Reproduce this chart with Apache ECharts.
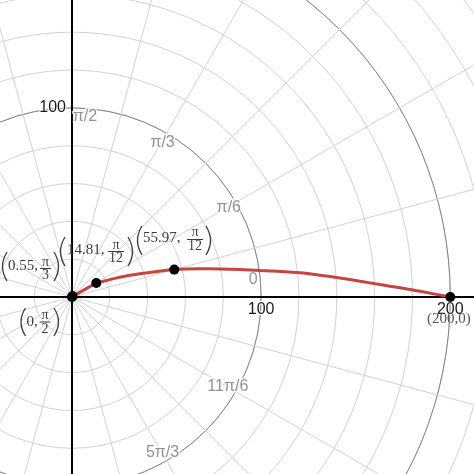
<!DOCTYPE html>
<html><head><meta charset="utf-8">
<script src="https://cdn.jsdelivr.net/npm/echarts@6/dist/echarts.min.js"></script>
<style>html,body{margin:0;padding:0;background:#fff}#c{width:474px;height:474px}</style>
</head><body><div id="c"></div>
<script>
// ---- data ----
// curve, polar coordinates: radius and angle in degrees
const curveR     = [0, 5.0, 9.8, 14.61, 19.41, 24.77, 32.74, 43.24, 55.85, 69.3, 79.63, 89.99, 100.37, 110.8, 121.22, 131.62, 142.04, 152.49, 162.97, 173.48, 184.0, 200];
const curveTheta = [31, 31, 30.5, 29.7, 26.0, 23.4, 20.52, 17.5, 15.09, 12.42, 10.71, 9.26, 8.02, 7.02, 6.06, 5.02, 4.06, 3.14, 2.32, 1.61, 0.95, 0];
// marked points
const pointR     = [0, 0.55, 14.81, 55.97, 200];
const pointTheta = [90, 60, 30, 15, 0];
// angle tick labels on the r = 100 circle
const angleTickDeg  = [90, 60, 30, 0, 330, 300];
const angleTickText = ['π/2', 'π/3', 'π/6', '0', '11π/6', '5π/3'];
// axis tick labels
const xTickLabels = [100, 200];
const yTickLabels = [100];
// point label texts
const labelValues = ['0.55,', '14.81,', '55.97,', '0,'];
const labelNum    = ['π', 'π', 'π', 'π'];
const labelDen    = ['3', '12', '12', '2'];
const endLabel    = '(200,0)';

// ---- layout ----
const S = 1.8915;            // px per unit
const CX = 72, CY = 297;     // origin in px
const W = 474, H = 474;
const angleLabelOffset = [[13, 9], [-4, 9], [-7, 5], [-8, -17], [-8, -5], [-4, -8]];
// per label: paren left x, paren top, paren bottom, text x, text y, frac cx, num y, bar y, den y, bar half width, right paren x
const labelLayout = [
  [2, 252, 281, 8, 266.5, 45.5, 262, 268.5, 275, 5.5, 54],
  [60, 237, 266, 67, 250.5, 116, 245, 251.5, 258.5, 8, 128],
  [137, 226, 255, 143, 238.5, 195, 232, 239.5, 246, 8, 206],
  [20.5, 308, 336, 26.5, 322, 45, 315.5, 322, 329, 5.5, 54]
];

const chart = echarts.init(document.getElementById('c'), null, {renderer: 'canvas'});

const graphics = [];
const serif = '"Liberation Serif", "DejaVu Serif", serif';
const ink = '#3c3c3c';
function paren(xl, top, bot, left) {
  const w = 5;
  if (left) {
    graphics.push({type: 'bezierCurve', z: 30, shape: {x1: xl + w, y1: top, x2: xl + w, y2: bot, cpx1: xl - 4, cpy1: (top + bot) / 2},
      style: {stroke: ink, lineWidth: 1.3, fill: null}});
  } else {
    graphics.push({type: 'bezierCurve', z: 30, shape: {x1: xl, y1: top, x2: xl, y2: bot, cpx1: xl + w + 4, cpy1: (top + bot) / 2},
      style: {stroke: ink, lineWidth: 1.3, fill: null}});
  }
}
labelLayout.forEach((L, i) => {
  const [pl, top, bot, tx, ty, fcx, ny, by, dy, bh, pr] = L;
  paren(pl, top, bot, true);
  graphics.push({type: 'text', z: 30, style: {text: labelValues[i], x: tx, y: ty, font: '15px ' + serif, fill: ink, align: 'left', verticalAlign: 'middle'}});
  graphics.push({type: 'text', z: 30, style: {text: labelNum[i], x: fcx, y: ny, font: '14px ' + serif, fill: ink, align: 'center', verticalAlign: 'middle'}});
  graphics.push({type: 'line', z: 30, shape: {x1: fcx - bh, y1: by, x2: fcx + bh, y2: by}, style: {stroke: ink, lineWidth: 1}});
  graphics.push({type: 'text', z: 30, style: {text: labelDen[i], x: fcx, y: dy, font: '14px ' + serif, fill: ink, align: 'center', verticalAlign: 'middle'}});
  paren(pr, top, bot, false);
});
graphics.push({type: 'text', z: 30, style: {text: endLabel, x: 427, y: 319.5, font: '15px ' + serif, fill: '#555', align: 'left', verticalAlign: 'middle'}});

const axisLabelStyle = {color: '#1a1a1a', fontSize: 16, textBorderColor: '#fff', textBorderWidth: 2,
  formatter: v => String(Math.round(v))};

const option = {
  animation: false,
  backgroundColor: '#fff',
  textStyle: {fontFamily: '"Liberation Sans", Arial, sans-serif'},
  polar: [
    {center: [CX, CY], radius: 280 * S},
    {center: [CX, CY], radius: 300 * S}
  ],
  angleAxis: [
    {polarIndex: 0, type: 'value', min: 0, max: 360, interval: 15, startAngle: 0, clockwise: false,
     axisLine: {show: false}, axisTick: {show: false}, axisLabel: {show: false},
     splitLine: {show: true, lineStyle: {color: '#d2d2d2', width: 1}}},
    {polarIndex: 1, type: 'value', min: 0, max: 360, interval: 90, startAngle: 0, clockwise: false,
     axisLine: {show: false}, axisTick: {show: false}, axisLabel: {show: false}, splitLine: {show: false}}
  ],
  radiusAxis: [
    {polarIndex: 0, type: 'value', min: 0, max: 280, interval: 20,
     axisLine: {show: false}, axisTick: {show: false}, axisLabel: {show: false},
     splitLine: {show: true, lineStyle: {color: '#d2d2d2', width: 1}}},
    {polarIndex: 1, type: 'value', min: 0, max: 300, interval: 100,
     axisLine: {show: false}, axisTick: {show: false}, axisLabel: {show: false},
     splitLine: {show: true, lineStyle: {color: '#858585', width: 1}}}
  ],
  // grid 0 carries the horizontal axis along its bottom edge, grid 1 the vertical axis along its left edge
  grid: [
    {left: 0, top: 0, width: W, height: CY, containLabel: false, outerBoundsMode: 'none'},
    {left: CX, top: 0, width: W - CX, height: H, containLabel: false, outerBoundsMode: 'none'}
  ],
  xAxis: [
    {gridIndex: 0, type: 'value', position: 'bottom', min: -CX / S, max: (W - CX) / S, z: 5,
     axisLine: {onZero: false, lineStyle: {color: '#000', width: 2}}, axisTick: {show: false}, splitLine: {show: false},
     axisLabel: Object.assign({customValues: xTickLabels, margin: 5}, axisLabelStyle)},
    {gridIndex: 1, type: 'value', min: 0, max: (W - CX) / S, show: false}
  ],
  yAxis: [
    {gridIndex: 0, type: 'value', min: 0, max: CY / S, show: false},
    {gridIndex: 1, type: 'value', position: 'left', min: -(H - CY) / S, max: CY / S, z: 5,
     axisLine: {onZero: false, lineStyle: {color: '#000', width: 2}}, axisTick: {show: false}, splitLine: {show: false},
     axisLabel: Object.assign({customValues: yTickLabels, margin: 6}, axisLabelStyle)}
  ],
  series: [
    {type: 'line', coordinateSystem: 'polar', polarIndex: 0, z: 8, smooth: 0.25, showSymbol: false, silent: true,
     data: curveR.map((r, i) => [r, curveTheta[i]]),
     lineStyle: {color: '#c74440', width: 3}},
    {type: 'scatter', coordinateSystem: 'polar', polarIndex: 0, z: 10, symbolSize: 10, silent: true,
     data: pointR.map((r, i) => [r, pointTheta[i]]),
     itemStyle: {color: '#000', opacity: 1}},
    {type: 'scatter', coordinateSystem: 'polar', polarIndex: 0, z: 6, symbolSize: 0.1, silent: true,
     itemStyle: {color: 'rgba(0,0,0,0)'},
     data: angleTickDeg.map((a, i) => ({value: [100, a], label: {offset: angleLabelOffset[i]}})),
     label: {show: true, position: 'inside', color: '#777', fontSize: 16,
       textBorderColor: '#fff', textBorderWidth: 3,
       formatter: p => angleTickText[p.dataIndex]}}
  ],
  graphic: graphics
};
chart.setOption(option);
</script>
</body></html>
